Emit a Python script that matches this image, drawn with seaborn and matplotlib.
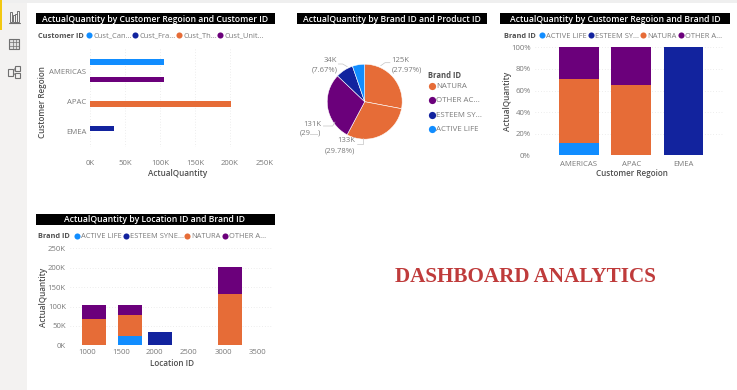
import matplotlib
matplotlib.use("Agg")
import matplotlib.pyplot as plt
from matplotlib.patches import Rectangle
import numpy as np
import pandas as pd
import seaborn as sns

W, H = 737, 390
sns.set_theme(style="white")
plt.rcParams["font.family"] = ["Open Sans", "DejaVu Sans"]

BLUE, NAVY, ORANGE, PURPLE = "#118DFF", "#12239E", "#E66C37", "#6B007B"
GRAY = "#7a7a7a"
DARK = "#505050"

# panel 1
customers = ["Cust_Can", "Cust_United", "Cust_Thai", "Cust_France"]
customer_qty = [105000, 105000, 202000, 34000]
customer_colors = [BLUE, PURPLE, ORANGE, NAVY]
regions1 = ["AMERICAS", "APAC", "EMEA"]
x_ticks1 = [0, 50000, 100000, 150000, 200000, 250000]
# panel 2
pie_values = [125000, 133000, 131000, 34000, 23600]
pie_colors = [ORANGE, ORANGE, PURPLE, NAVY, BLUE]
# panel 3 (percent share)
regions3 = ["AMERICAS", "APAC", "EMEA"]
share_active = [11, 0, 0]
share_esteem = [0, 0, 100]
share_natura = [60, 65.5, 0]
share_other = [29, 34.5, 0]
# panel 4
locations = [1110, 1630, 2080, 3100]
loc_active = [0, 24000, 0, 0]
loc_esteem = [0, 0, 33500, 0]
loc_natura = [69000, 55000, 0, 131000]
loc_other = [36000, 26000, 0, 70000]
x_ticks4 = [1000, 1500, 2000, 2500, 3000, 3500]
y_ticks4 = [0, 50000, 100000, 150000, 200000, 250000]

fig = plt.figure(figsize=(W / 100, H / 100), dpi=100, facecolor="white")


def axes_px(x0, y0, x1, y1, **kw):
    ax = fig.add_axes([x0 / W, 1 - y1 / H, (x1 - x0) / W, (y1 - y0) / H], **kw)
    ax.box_px = (x0, y0, x1, y1)
    return ax


def k_fmt(v):
    return f"{int(v / 1000)}K"


def style(ax, grid_axis):
    ax.set_facecolor("none")
    sns.despine(ax=ax, left=True, bottom=True)
    ax.grid(True, axis=grid_axis, color="#dcdcdc", linestyle=(0, (1, 3)), linewidth=0.5)
    ax.set_axisbelow(True)
    ax.tick_params(length=0, labelsize=5.6, labelcolor=GRAY, pad=3)


def axis_labels(ax, xlabel, ylabel, xlab_y, xlab_x, ylab_x, ylab_y):
    x0, y0, x1, y1 = ax.box_px
    ax.set_xlabel(xlabel, fontsize=5.9, color=DARK, fontweight="semibold", va="center")
    ax.set_ylabel(ylabel, fontsize=5.9, color=DARK, fontweight="semibold", va="center")
    ax.xaxis.set_label_coords((xlab_x - x0) / (x1 - x0), (y1 - xlab_y) / (y1 - y0))
    ax.yaxis.set_label_coords((ylab_x - x0) / (x1 - x0), (y1 - ylab_y) / (y1 - y0))


# overlay for chrome, in pixel coordinates
ov = axes_px(0, 0, W, H)
ov.set_xlim(0, W)
ov.set_ylim(H, 0)
ov.axis("off")
ov.set_zorder(5)
ov.add_patch(Rectangle((0, 0), 27, H, color="#F3F2F1", lw=0))
ov.add_patch(Rectangle((0, 0), W, 3, color="#EFEFEF", lw=0))
ov.add_patch(Rectangle((0, 0), 2, 30, color="#F2C811", lw=0))

# sidebar icons
ic = "#707070"
for bx, bh in zip([10, 12.8, 15.4, 17.4], [10, 7, 8, 11]):
    ov.add_patch(Rectangle((bx, 22 - bh), 1.8, bh, fc="none", ec=ic, lw=0.7))
ov.plot([9, 20], [22.5, 22.5], color=ic, lw=0.8)
ov.add_patch(Rectangle((9.5, 39), 10, 10, fc="#e2e2e2", ec=ic, lw=0.8))
for yy in (42, 45.5):
    ov.plot([9.5, 19.5], [yy, yy], color=ic, lw=0.5)
for xx in (12.8, 16.2):
    ov.plot([xx, xx], [39, 49], color=ic, lw=0.5)
for r in [(8.5, 69, 5, 7), (15, 65.5, 5.5, 5), (15, 73, 5, 4.5)]:
    ov.add_patch(Rectangle((r[0], r[1]), r[2], r[3], fc="none", ec=ic, lw=0.8))
ov.plot([13.5, 15], [72.5, 68], color=ic, lw=0.5)
ov.plot([13.5, 15], [72.5, 75], color=ic, lw=0.5)

# title bars
for x0, x1, y0, y1, txt, tx in [
    (36, 275, 12.5, 23.5, "ActualQuantity by Customer Regoion and Customer ID", 155),
    (297, 487, 12.5, 23.5, "ActualQuantity by Brand ID and Product ID", 392),
    (500.5, 730, 12.5, 23.5, "ActualQuantity by Customer Regoion and Brand ID", 615),
    (36, 275, 213.5, 224.5, "ActualQuantity by Location ID and Brand ID", 155),
]:
    ov.add_patch(Rectangle((x0, y0), x1 - x0, y1 - y0, color="black", lw=0))
    ov.text(tx, (y0 + y1) / 2, txt, color="white", fontsize=6.2, fontweight="semibold",
            ha="center", va="center_baseline")


def legend(title, tx, items, y):
    ov.text(tx, y, title, fontsize=5.3, fontweight="bold", color=DARK, ha="left", va="center_baseline")
    for px, label, color in items:
        ov.plot([px], [y], "o", ms=4.4, color=color, mew=0)
        ov.text(px + 4.2, y, label, fontsize=5.4, color=GRAY, ha="left", va="center_baseline")


legend("Customer ID", 38.5, [(89.5, "Cust_Can...", BLUE), (135.5, "Cust_Fra...", NAVY),
                             (179, "Cust_Th...", ORANGE), (220.5, "Cust_Unit...", PURPLE)], 35)
legend("Brand ID", 504, [(542, "ACTIVE LIFE", BLUE), (590.7, "ESTEEM SY...", NAVY),
                         (642.7, "NATURA", ORANGE), (681, "OTHER A...", PURPLE)], 35)
legend("Brand ID", 38.5, [(76.7, "ACTIVE LIFE", BLUE), (125.7, "ESTEEM SYNE...", NAVY),
                          (187, "NATURA", ORANGE), (225, "OTHER A...", PURPLE)], 236)

# pie legend
ov.text(428.5, 74, "Brand ID", fontsize=5.5, fontweight="bold", color=DARK, va="center_baseline")
for y, lab, c in [(86, "NATURA", ORANGE), (100, "OTHER AC...", PURPLE),
                  (114.5, "ESTEEM SY...", NAVY), (128.5, "ACTIVE LIFE", BLUE)]:
    ov.plot([431.7], [y], "o", ms=5.2, color=c, mew=0)
    ov.text(436, y, lab, fontsize=5.7, color=GRAY, va="center_baseline")

ov.text(525.5, 274.5, "DASHBOARD ANALYTICS", family="Liberation Serif", fontsize=15.2,
        fontweight="bold", color="#BF3B3B", ha="center", va="center_baseline")

# panel 1: horizontal bars
ax1 = axes_px(90.3, 48, 265, 147)
slot_px = [62, 79.5, 104, 128.5]
df1 = pd.DataFrame({"slot": slot_px, "qty": customer_qty, "customer": customers})
sns.barplot(data=df1, x="qty", y="slot", hue="customer", palette=customer_colors, orient="h",
            native_scale=True, dodge=False, width=0.31, legend=False, ax=ax1, saturation=1, linewidth=0)
ax1.set_xlim(0, 250000)
ax1.set_ylim(147, 48)
style(ax1, "x")
ax1.set_xticks(x_ticks1, [k_fmt(v) for v in x_ticks1])
ax1.set_yticks([71, 102, 131], regions1)
ax1.tick_params(axis="x", pad=9.5)
axis_labels(ax1, "ActualQuantity", "Customer Regoion", 173, 177.5, 42.7, 101.7)

# panel 2: pie
ax2 = axes_px(327.2, 64.2, 402.2, 139.2)
ax2.pie(pie_values, colors=pie_colors, startangle=90, counterclock=False, radius=1,
        wedgeprops=dict(edgecolor="white", linewidth=0.4))
ax2.set_xlim(-1, 1)
ax2.set_ylim(-1, 1)
for (l1, l2), x, ha, y1, y2, lx, ly in [
    (("125K", "(27.97%)"), 391.7, "left", 60, 69, [380.7, 385, 390], [65.7, 62.7, 62.7]),
    (("133K", "(29.78%)"), 354.7, "right", 140, 149.5, [363.3, 363.3, 356.7], [138.3, 144, 144]),
    (("131K", "(29....)"), 321, "right", 123, 132, [335, 332.7, 323.3], [122, 126, 126]),
    (("34K", "(7.67%)"), 337.3, "right", 60, 69, [347.3, 342.7, 338.3], [66.7, 64, 64]),
]:
    ov.text(x, y1, l1, fontsize=5.5, color=GRAY, ha=ha, va="center_baseline")
    ov.text(x, y2, l2, fontsize=5.5, color=GRAY, ha=ha, va="center_baseline")
    ov.plot(lx, ly, color="#c4c4c4", lw=0.5)

# panel 3: 100% stacked columns, drawn from the tallest cumulative layer down
ax3 = axes_px(535, 47.3, 723, 155.3)
layers3 = [share_active, share_esteem, share_natura, share_other]
cum3 = np.cumsum(layers3, axis=0)
for vals, color in zip(cum3[::-1], [PURPLE, ORANGE, NAVY, BLUE]):
    sns.barplot(x=regions3, y=vals, color=color, width=0.755, saturation=1, ax=ax3, linewidth=0)
ax3.set_xlim(-0.836, 2.752)
ax3.set_ylim(0, 100)
style(ax3, "y")
ax3.set_yticks(range(0, 101, 20), [f"{v}%" for v in range(0, 101, 20)])
ax3.tick_params(axis="x", pad=4)
axis_labels(ax3, "Customer Regoion", "ActualQuantity", 173, 632.3, 507.7, 101.7)

# panel 4: stacked columns on a numeric axis
ax4 = axes_px(70, 248.3, 272, 345.3)
layers4 = [loc_active, loc_esteem, loc_natura, loc_other]
cum4 = np.cumsum(layers4, axis=0)
for vals, color in zip(cum4[::-1], [PURPLE, ORANGE, NAVY, BLUE]):
    sns.barplot(x=locations, y=vals, color=color, native_scale=True, width=0.79, saturation=1, ax=ax4, linewidth=0)
sx = 500 / 34.07
ax4.set_xlim(1000 - (86.7 - 70) * sx, 1000 + (272 - 86.7) * sx)
ax4.set_ylim(0, 250000)
style(ax4, "y")
ax4.set_xticks(x_ticks4, [str(v) for v in x_ticks4])
ax4.set_yticks(y_ticks4, [k_fmt(v) for v in y_ticks4])
axis_labels(ax4, "Location ID", "ActualQuantity", 363, 172, 43.3, 297)

fig.savefig("out.png", dpi=100)
